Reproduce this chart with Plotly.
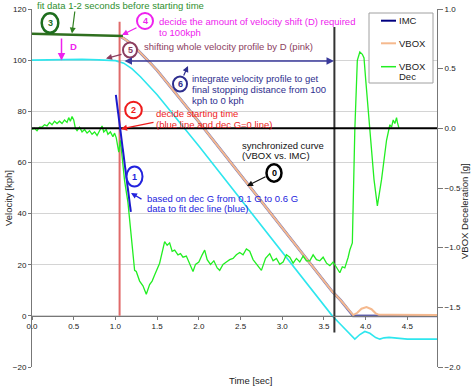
import plotly.graph_objects as go

# ---------------- data ----------------
# VBOX deceleration [g] (right axis)
t_dec = [0.00,0.03,0.06,0.09,0.12,0.15,0.18,0.21,0.24,0.27,
         0.30,0.33,0.36,0.39,0.42,0.44,0.46,0.48,0.50,0.52,
         0.54,0.57,0.60,0.63,0.66,0.69,0.72,0.75,0.78,0.81,
         0.84,0.86,0.89,0.91,0.94,0.97,0.99,1.01,1.03,1.04,
         1.06,1.09,1.11,1.15,1.17,1.20,1.23,1.25,1.29,1.33,
         1.37,1.41,1.44,1.47,1.53,1.59,1.62,1.65,1.68,1.71,
         1.75,1.78,1.81,1.85,1.89,1.93,1.96,2.00,2.04,2.07,
         2.10,2.14,2.18,2.22,2.25,2.29,2.33,2.37,2.41,2.45,
         2.49,2.53,2.57,2.61,2.65,2.70,2.75,2.80,2.85,2.89,
         2.93,2.97,3.01,3.05,3.09,3.13,3.17,3.21,3.25,3.29,
         3.33,3.37,3.41,3.45,3.49,3.53,3.57,3.61,3.65,3.69,
         3.72,3.75,3.79,3.81,3.84,3.87,3.90,3.93,3.96,3.98,
         4.00,4.05,4.10,4.14,4.19,4.25,4.29,4.31,4.33,4.35,
         4.37,4.38,4.40]
g_dec = [-0.01,0.00,-0.02,0.01,0.01,0.03,0.02,0.05,0.03,0.06,
         0.04,0.06,0.04,0.07,0.05,0.09,0.06,0.10,0.07,0.00,
         -0.02,0.01,-0.03,-0.01,-0.04,-0.02,-0.05,-0.03,-0.06,-0.02,
         0.02,-0.03,-0.01,-0.05,-0.03,-0.07,-0.04,-0.08,-0.18,-0.20,
         -0.10,-0.30,-0.44,-0.62,-0.75,-1.00,-1.19,-1.20,-1.28,-1.32,
         -1.39,-1.31,-1.28,-1.23,-1.13,-0.95,-0.98,-0.96,-1.03,-1.02,
         -1.06,-1.05,-1.08,-1.07,-1.13,-1.20,-1.14,-1.12,-1.06,-1.02,
         -1.10,-1.14,-1.11,-1.17,-1.19,-1.14,-1.12,-1.10,-1.09,-1.06,
         -1.04,-1.06,-1.01,-1.03,-1.10,-1.15,-1.19,-1.09,-1.05,-1.11,
         -1.09,-1.14,-1.12,-1.06,-1.08,-1.13,-1.09,-1.12,-1.07,-1.11,
         -1.11,-1.06,-1.10,-1.11,-1.08,-1.13,-1.15,-1.12,-1.17,-1.21,
         -1.16,-1.17,-1.08,-1.02,-0.96,-0.01,0.57,0.64,0.62,0.59,
         0.41,0.00,-0.43,-0.65,-0.43,-0.10,0.03,0.01,0.07,0.04,
         0.09,0.05,0.00]

# velocity profile shifted by D (cyan)
t_shift = [0.0,0.2,0.4,0.6,0.8,0.9,1.0,1.1,1.2,1.3,1.4,1.5,2.0,2.5,3.0,3.5,3.6,
           3.7,3.8,3.87,3.93,3.99,4.05,4.12,4.17,4.22,4.28,4.35,4.42,4.5,4.855]
v_shift = [100.0,100.1,100.3,100.3,100.1,100.0,99.8,98.8,96.6,93.5,90.0,86.5,66.4,45.6,24.9,4.2,0.0,
           -3.4,-6.8,-9.1,-7.3,-6.1,-6.8,-8.5,-9.1,-8.6,-8.4,-8.6,-9.0,-9.1,-9.1]

# VBOX velocity
t_vbox = [1.05,1.1,1.2,1.3,1.4,1.5,2.0,2.5,3.0,3.5,3.6,3.7,3.8,3.85,3.9,3.95,4.01,4.07,4.12,4.16,4.3,4.5,4.855]
v_vbox = [109.4,108.5,106.2,103.0,99.5,96.0,75.9,55.1,34.4,13.7,9.5,6.1,2.0,0.3,1.2,2.8,3.4,2.6,1.0,0.4,0.4,0.3,0.3]

# IMC velocity
t_imc = [1.05,1.1,1.2,1.3,1.4,1.5,2.0,2.5,3.0,3.5,3.6,3.7,3.8,3.85,3.9,4.0,4.5,4.855]
v_imc = [109.4,108.5,106.2,103.0,99.5,96.0,75.9,55.1,34.4,13.7,9.5,6.1,2.0,0.0,0.0,0.0,0.0,0.0]

# helper lines
t_fit_pre = [0.0, 1.09]
v_fit_pre = [110.3, 109.4]
t_fit_dec = [1.005, 1.185]
g_fit_dec = [0.28, -0.70]
t_start = [1.05, 1.05]
v_start = [115.0, 0.0]
t_stop = [3.625, 3.625]
v_stop = [113.0, -6.5]
t_g0 = [0.0, 4.855]
g_g0 = [0.0, 0.0]

x_ticks = [0.0, 0.5, 1.0, 1.5, 2.0, 2.5, 3.0, 3.5, 4.0, 4.5]
v_ticks = [-20, 0, 20, 40, 60, 80, 100, 120]
g_ticks = [-2.0, -1.5, -1.0, -0.5, 0.0, 0.5, 1.0]

# ---------------- layout helpers ----------------
W, H = 474, 387
L, R, T, B = 32, 437, 9, 367
X_MAX = 4.855
FONT = "Liberation Sans, Arial, sans-serif"

def tx(px):
    return (px - L) / (R - L) * X_MAX

def vy(py):
    return 120 - (py - T) / (B - T) * 140

def pxp(px):
    return (px - L) / (R - L)

def pyp(py):
    return (B - py) / (B - T)

fig = go.Figure()

fig.add_trace(go.Scatter(x=t_shift, y=v_shift, mode="lines", line=dict(color="#2ee6ee", width=1.6),
                         showlegend=False, hoverinfo="skip"))
fig.add_trace(go.Scatter(x=t_imc, y=v_imc, mode="lines", name="IMC", line=dict(color="#000080", width=2.8),
                         opacity=0.55, showlegend=False))
fig.add_trace(go.Scatter(x=t_vbox, y=v_vbox, mode="lines", name="VBOX", line=dict(color="#f5b98e", width=2.0),
                         showlegend=False))
fig.add_trace(go.Scatter(x=t_start, y=v_start, mode="lines", line=dict(color="#e06a6a", width=2),
                         showlegend=False, hoverinfo="skip"))
fig.add_trace(go.Scatter(x=t_stop, y=v_stop, mode="lines", line=dict(color="#333333", width=2),
                         showlegend=False, hoverinfo="skip"))
fig.add_trace(go.Scatter(x=t_fit_pre, y=v_fit_pre, mode="lines", line=dict(color="#2f6f1f", width=2.5),
                         showlegend=False, hoverinfo="skip"))
fig.add_trace(go.Scatter(x=t_dec, y=g_dec, mode="lines", name="VBOX Dec", yaxis="y2",
                         line=dict(color="#22ee22", width=1.3), showlegend=False))
fig.add_trace(go.Scatter(x=t_g0, y=g_g0, mode="lines", yaxis="y2", line=dict(color="#000000", width=2),
                         showlegend=False, hoverinfo="skip"))
fig.add_trace(go.Scatter(x=t_fit_dec, y=g_fit_dec, mode="lines", yaxis="y2", line=dict(color="#1a1acc", width=2),
                         showlegend=False, hoverinfo="skip"))

annotations = []
shapes = []

def txt(px, py, s, color, size=9.5, bold=False, anchor="left"):
    if bold:
        s = "<b>" + s + "</b>"
    annotations.append(dict(x=pxp(px), y=pyp(py), xref="paper", yref="paper", text=s, showarrow=False,
                            xanchor=anchor, yanchor="middle", font=dict(family=FONT, size=size, color=color)))

def arrow(px0, py0, px1, py1, color, width=1.2, both=False):
    d = dict(x=tx(px1), y=vy(py1), ax=tx(px0), ay=vy(py0), xref="x", yref="y", axref="x", ayref="y",
             text="", showarrow=True, arrowhead=2, arrowsize=1, arrowwidth=width, arrowcolor=color)
    if both:
        d.update(arrowside="end+start", startarrowhead=2, startarrowsize=1)
    annotations.append(d)

def circle(cx, cy, rx, ry, color, label, lw=2):
    shapes.append(dict(type="circle", xref="x", yref="y", xsizemode="pixel", ysizemode="pixel",
                       xanchor=tx(cx), yanchor=vy(cy), x0=-rx, x1=rx, y0=-ry, y1=ry,
                       line=dict(color=color, width=lw), fillcolor="white", layer="above"))
    txt(cx, cy, label, color, size=9, bold=True, anchor="center")

GREEN_T = "#2f8f2f"
MAG = "#ee22ee"
MAROON = "#8b3d5e"
NAVY = "#2e2e8e"
RED = "#ee1c1c"
BLUE = "#2222dd"

# annotation texts
txt(35, 6, "fit data 1-2 seconds before starting time", GREEN_T)
txt(157, 21.5, "decide the amount of velocity shift (D) required", MAG)
txt(157, 32.3, "to 100kph", MAG)
txt(68, 46.5, "D", MAG, size=9.5, bold=True)
txt(142, 46.7, "shifting whole velocity profile by D (pink)", MAROON)
txt(190, 79, "integrate velocity profile to get", NAVY)
txt(190, 89.5, "final stopping distance from 100", NAVY)
txt(190, 100, "kph to 0 kph", NAVY)
txt(154, 113, "decide starting time", RED)
txt(154, 124.5, "(blue line and dec G=0 line)", RED)
txt(240, 145, "synchronized curve", "#111111")
txt(240, 155.5, "(VBOX vs. IMC)", "#111111")
txt(145, 198, "based on dec G from 0.1 G to 0.6 G", BLUE)
txt(145, 208.5, "data to fit dec line (blue)", BLUE)

# arrows
arrow(75, 10, 72, 33.5, "#2f7f1f")
arrow(61.5, 37, 61.5, 60.5, MAG, width=1.5)
arrow(138, 27, 122, 35, MAG)
arrow(123, 54, 106, 58.5, MAROON)
arrow(183, 77, 188, 66, NAVY)
arrow(155, 122, 121, 129, RED)
arrow(143, 200, 131, 193, BLUE)
arrow(267, 176, 247, 186, "#111111")
arrow(123, 61, 334, 61, "#3a3a9a", width=1.5, both=True)

# numbered circles
circle(50, 23, 8.3, 9.7, "#1e6e1e", "3", lw=2.5)
circle(145, 21, 8, 8, MAG, "4")
circle(130, 50, 7, 7.5, MAROON, "5")
circle(180, 84, 7, 7.5, NAVY, "6")
circle(133.5, 110, 8.3, 8.3, RED, "2")
circle(134.5, 176.5, 8, 10, BLUE, "1")
circle(274, 173, 7.5, 8.7, "#000000", "0", lw=2.5)

# manual legend
shapes.append(dict(type="rect", xref="paper", yref="paper", x0=pxp(369), x1=pxp(433), y0=pyp(83), y1=pyp(13),
                   line=dict(color="#a0a0a0", width=1), fillcolor="white", layer="above"))
leg = [(20.7, "#000080", 2, ["IMC"]), (43.3, "#f5b98e", 2, ["VBOX"]), (66.7, "#22ee22", 1.5, ["VBOX", "Dec"])]
for ly, col, lw, names in leg:
    shapes.append(dict(type="line", xref="paper", yref="paper", x0=pxp(381), x1=pxp(396), y0=pyp(ly), y1=pyp(ly),
                       line=dict(color=col, width=lw), layer="above"))
    for i, nm in enumerate(names):
        annotations.append(dict(x=pxp(397), y=pyp(ly + 10 * i), xref="paper", yref="paper", text=nm,
                                showarrow=False, xanchor="left", yanchor="middle",
                                font=dict(family=FONT, size=9.5, color="#222222")))

# axis titles
annotations.append(dict(x=pxp(8), y=pyp(198), xref="paper", yref="paper", text="Velocity [kph]", textangle=-90,
                        showarrow=False, xanchor="center", yanchor="middle",
                        font=dict(family=FONT, size=9.5, color="#222222")))
annotations.append(dict(x=pxp(250), y=pyp(380), xref="paper", yref="paper", text="Time [sec]",
                        showarrow=False, xanchor="center", yanchor="middle",
                        font=dict(family=FONT, size=9.5, color="#222222")))
annotations.append(dict(x=pxp(464), y=pyp(211), xref="paper", yref="paper", text="VBOX Deceleration [g]",
                        textangle=-90, showarrow=False, xanchor="center", yanchor="middle",
                        font=dict(family=FONT, size=9.5, color="#222222")))

fig.update_layout(
    width=W, height=H,
    margin=dict(l=L, r=W - R, t=T, b=H - B, pad=0, autoexpand=False),
    paper_bgcolor="white", plot_bgcolor="white",
    showlegend=False,
    font=dict(family=FONT, size=8, color="#222222"),
    xaxis=dict(range=[0, X_MAX], tickvals=x_ticks, tickformat=".1f", showgrid=False, zeroline=False,
               showline=True, linecolor="#777777", linewidth=1, ticks="outside", ticklen=3, tickcolor="#777777",
               anchor="free", position=20 / 140, automargin=False, tickfont=dict(size=8, color="#222222")),
    yaxis=dict(range=[-20, 120], tickvals=v_ticks, showgrid=True, gridcolor="#d4d4d4", gridwidth=1,
               zeroline=False, showline=True, linecolor="#777777", linewidth=1, ticks="outside", ticklen=3,
               tickcolor="#777777", automargin=False, tickfont=dict(size=8, color="#222222")),
    yaxis2=dict(range=[-2, 1], tickvals=g_ticks, tickformat=".1f", overlaying="y", side="right",
                showgrid=False, zeroline=False, showline=True, linecolor="#777777", linewidth=1,
                ticks="outside", ticklen=5, tickcolor="#777777", automargin=False,
                tickfont=dict(size=8, color="#222222")),
    annotations=annotations,
    shapes=shapes,
)

fig.write_html("out.html", config={"displayModeBar": False},
               post_script="document.body.style.margin='0px';document.body.style.padding='0px';")
